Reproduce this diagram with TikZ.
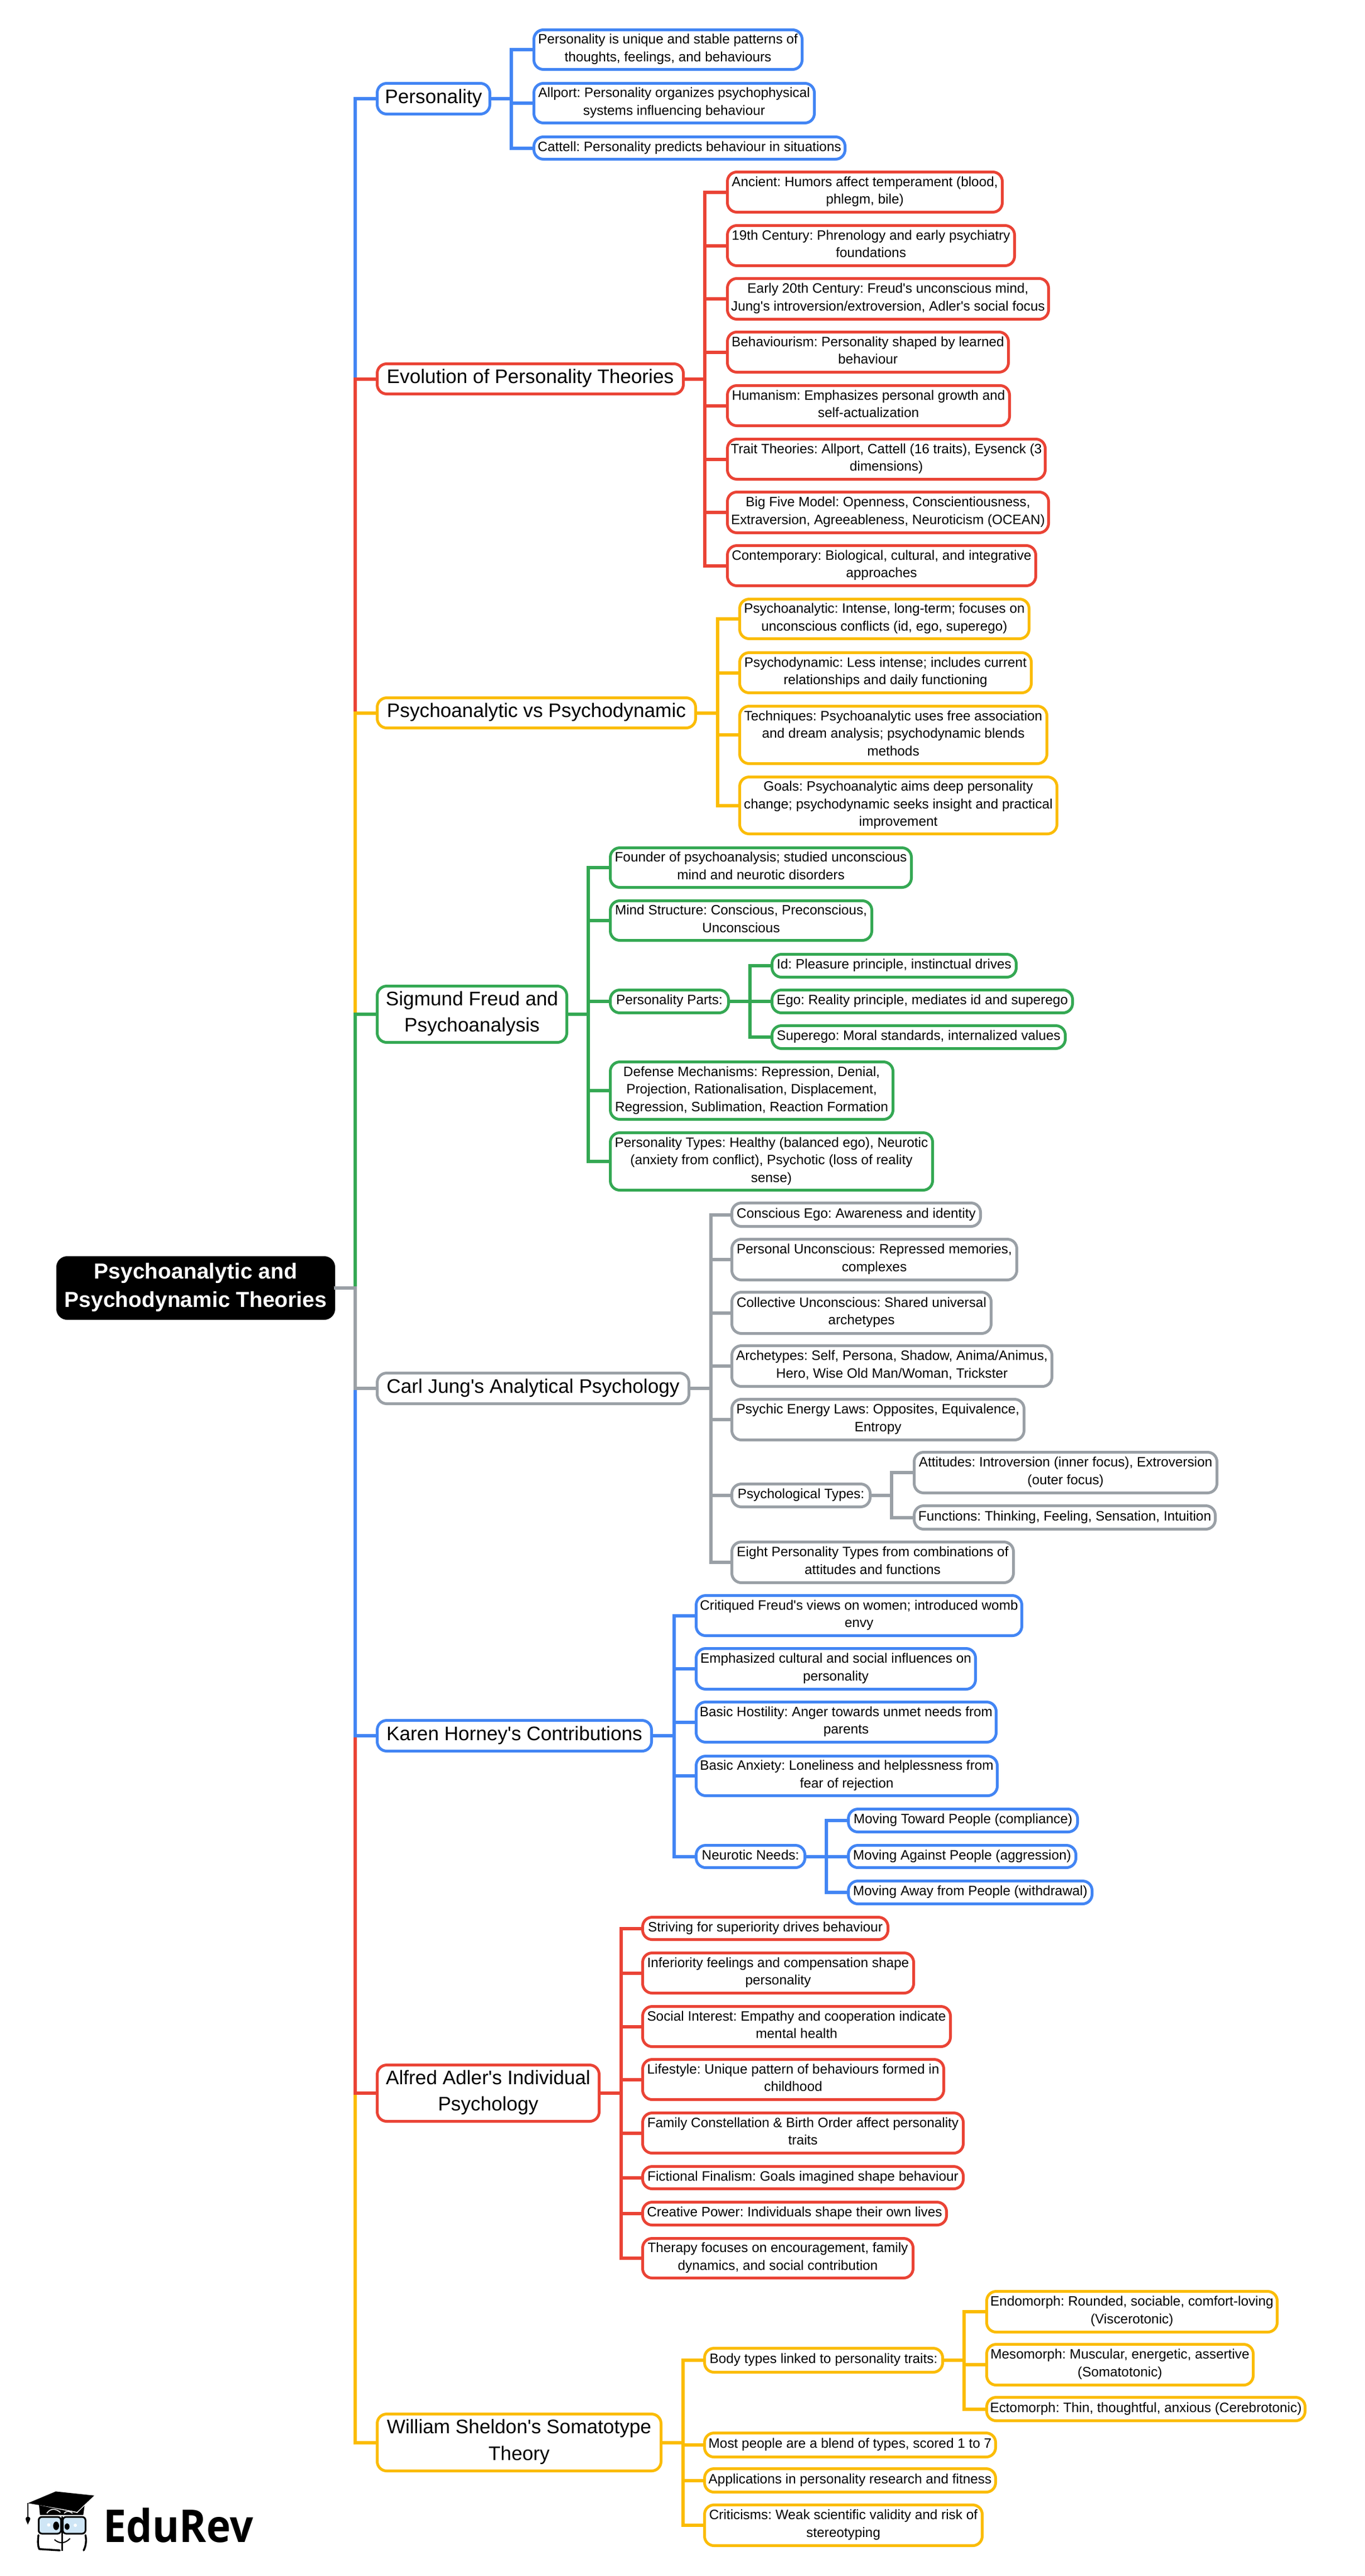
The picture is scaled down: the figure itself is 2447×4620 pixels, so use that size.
\documentclass[tikz,border=0pt]{standalone}
\usepackage{fontspec}
\setmainfont[Ligatures=TeXOff]{Liberation Sans}
\newfontfamily\logofont{Open Sans}
\definecolor{cblue}{HTML}{4285F4}
\definecolor{cred}{HTML}{EA4335}
\definecolor{cyellow}{HTML}{FBBC04}
\definecolor{cgreen}{HTML}{34A853}
\definecolor{cgray}{HTML}{9AA0A6}
\definecolor{lens}{HTML}{CFE6F6}
\frenchspacing
\tikzset{
  basebox/.style={rectangle,rounded corners=17pt,line width=5pt,fill=white,inner sep=0pt,outer sep=0pt,align=center,text=black},
  leafbox/.style={basebox,font=\frenchspacing\fontsize{24.35}{31.5}\selectfont},
  mainbox/.style={basebox,font=\frenchspacing\fontsize{35.2}{47.7}\selectfont},
  rootbox/.style={basebox,draw=black,fill=black,text=white,font=\frenchspacing\fontsize{39}{51}\selectfont\bfseries},
  linkline/.style={line width=6pt,line join=miter}
}
\newcommand{\bx}[7]{\node[#6,minimum width={#4-#2-5},minimum height={#5-#3-5}] (#1) at ({(#2+#4)/2},{(#3+#5)/2}) {\rule[-.27em]{0pt}{.83em}#7\rule[-.27em]{0pt}{.83em}};}
% parent, bus, child
\newcommand{\lnk}[4]{\draw[linkline,draw=#1] (#2.east) -- (#3 |- #2.east) -- (#3 |- #4.west) -- (#4.west);}
\begin{document}
\begin{tikzpicture}[x=1pt,y=-1pt]
\useasboundingbox (0,0) rectangle (2447,4620);
\fill[white] (0,0) rectangle (2447,4620);
% root
\bx{root}{101}{2253}{601}{2367}{rootbox}{Psychoanalytic and\\Psychodynamic Theories}
% main topics
\bx{pers}{674}{147}{881}{207}{mainbox,draw=cblue}{Personality}
\bx{evol}{674}{650}{1228}{709}{mainbox,draw=cred}{Evolution of Personality Theories}
\bx{pvsp}{674}{1249}{1250}{1308}{mainbox,draw=cyellow}{Psychoanalytic vs Psychodynamic}
\bx{freud}{674}{1766}{1019}{1872}{mainbox,draw=cgreen}{Sigmund Freud and\\Psychoanalysis}
\bx{jung}{674}{2460}{1238}{2520}{mainbox,draw=cgray}{Carl Jung's Analytical Psychology}
\bx{karen}{674}{3083}{1171}{3143}{mainbox,draw=cblue}{Karen Horney's Contributions}
\bx{adler}{674}{3701}{1077}{3807}{mainbox,draw=cred}{Alfred Adler's Individual\\Psychology}
\bx{sheldon}{674}{4327}{1188}{4434}{mainbox,draw=cyellow}{William Sheldon's Somatotype\\Theory}
% bus coordinates
\coordinate (trunk) at (637,0);
\coordinate (bpers) at (917,0);
\coordinate (bevol) at (1264,0);
\coordinate (bpvsp) at (1287,0);
\coordinate (bfreud) at (1055,0);
\coordinate (bparts) at (1345,0);
\coordinate (bjung) at (1275,0);
\coordinate (btypes) at (1599,0);
\coordinate (bkaren) at (1209,0);
\coordinate (bneeds) at (1482,0);
\coordinate (badler) at (1114,0);
\coordinate (bsheldon) at (1225,0);
\coordinate (bbody) at (1729,0);
% Personality
\bx{pa}{955}{51}{1441}{127}{leafbox,draw=cblue}{Personality is unique and stable patterns of\\thoughts, feelings, and behaviours}
\bx{pb}{955}{147}{1463}{223}{leafbox,draw=cblue}{Allport: Personality organizes psychophysical\\systems influencing behaviour}
\bx{pc}{955}{243}{1518}{288}{leafbox,draw=cblue}{Cattell: Personality predicts behaviour in situations}
% Evolution
\bx{ea}{1302}{306}{1800}{383}{leafbox,draw=cred}{Ancient: Humors affect temperament (blood,\\phlegm, bile)}
\bx{eb}{1302}{402}{1822}{479}{leafbox,draw=cred}{19th Century: Phrenology and early psychiatry\\foundations}
\bx{ec}{1302}{497}{1883}{575}{leafbox,draw=cred}{Early 20th Century: Freud's unconscious mind,\\Jung's introversion/extroversion, Adler's social focus}
\bx{ed}{1302}{593}{1811}{670}{leafbox,draw=cred}{Behaviourism: Personality shaped by learned\\behaviour}
\bx{ee}{1302}{689}{1813}{766}{leafbox,draw=cred}{Humanism: Emphasizes personal growth and\\self-actualization}
\bx{ef}{1302}{785}{1877}{862}{leafbox,draw=cred}{Trait Theories: Allport, Cattell (16 traits), Eysenck (3\\dimensions)}
\bx{eg}{1302}{880}{1883}{958}{leafbox,draw=cred}{Big Five Model: Openness, Conscientiousness,\\Extraversion, Agreeableness, Neuroticism (OCEAN)}
\bx{eh}{1302}{976}{1860}{1053}{leafbox,draw=cred}{Contemporary: Biological, cultural, and integrative\\approaches}
% Psychoanalytic vs
\bx{va}{1324}{1072}{1848}{1148}{leafbox,draw=cyellow}{Psychoanalytic: Intense, long-term; focuses on\\unconscious conflicts (id, ego, superego)}
\bx{vb}{1324}{1168}{1852}{1245}{leafbox,draw=cyellow}{Psychodynamic: Less intense; includes current\\relationships and daily functioning}
\bx{vc}{1324}{1264}{1880}{1372}{leafbox,draw=cyellow}{Techniques: Psychoanalytic uses free association\\and dream analysis; psychodynamic blends\\methods}
\bx{vd}{1324}{1391}{1898}{1498}{leafbox,draw=cyellow}{Goals: Psychoanalytic aims deep personality\\change; psychodynamic seeks insight and practical\\improvement}
% Freud
\bx{fa}{1092}{1518}{1637}{1594}{leafbox,draw=cgreen}{Founder of psychoanalysis; studied unconscious\\mind and neurotic disorders}
\bx{fb}{1092}{1613}{1566}{1689}{leafbox,draw=cgreen}{Mind Structure: Conscious, Preconscious,\\Unconscious}
\bx{fc}{1092}{1773}{1309}{1819}{leafbox,draw=cgreen}{Personality Parts:}
\bx{fca}{1382}{1709}{1825}{1755}{leafbox,draw=cgreen}{Id: Pleasure principle, instinctual drives}
\bx{fcb}{1382}{1773}{1926}{1819}{leafbox,draw=cgreen}{Ego: Reality principle, mediates id and superego}
\bx{fcc}{1382}{1837}{1913}{1883}{leafbox,draw=cgreen}{Superego: Moral standards, internalized values}
\bx{fd}{1092}{1902}{1604}{2010}{leafbox,draw=cgreen}{Defense Mechanisms: Repression, Denial,\\Projection, Rationalisation, Displacement,\\Regression, Sublimation, Reaction Formation}
\bx{fe}{1092}{2029}{1675}{2137}{leafbox,draw=cgreen}{Personality Types: Healthy (balanced ego), Neurotic\\(anxiety from conflict), Psychotic (loss of reality\\sense)}
% Jung
\bx{ja}{1310}{2155}{1761}{2202}{leafbox,draw=cgray}{Conscious Ego: Awareness and identity}
\bx{jb}{1310}{2220}{1826}{2298}{leafbox,draw=cgray}{Personal Unconscious: Repressed memories,\\complexes}
\bx{jc}{1310}{2315}{1780}{2394}{leafbox,draw=cgray}{Collective Unconscious: Shared universal\\archetypes}
\bx{jd}{1310}{2411}{1889}{2489}{leafbox,draw=cgray}{Archetypes: Self, Persona, Shadow, Anima/Animus,\\Hero, Wise Old Man/Woman, Trickster}
\bx{je}{1310}{2507}{1839}{2585}{leafbox,draw=cgray}{Psychic Energy Laws: Opposites, Equivalence,\\Entropy}
\bx{jf}{1310}{2659}{1563}{2705}{leafbox,draw=cgray}{Psychological Types:}
\bx{jfa}{1637}{2602}{2185}{2680}{leafbox,draw=cgray}{Attitudes: Introversion (inner focus), Extroversion\\(outer focus)}
\bx{jfb}{1637}{2698}{2182}{2745}{leafbox,draw=cgray}{Functions: Thinking, Feeling, Sensation, Intuition}
\bx{jg}{1310}{2763}{1820}{2841}{leafbox,draw=cgray}{Eight Personality Types from combinations of\\attitudes and functions}
% Karen
\bx{ka}{1246}{2859}{1835}{2936}{leafbox,draw=cblue}{Critiqued Freud's views on women; introduced womb\\envy}
\bx{kb}{1246}{2954}{1752}{3032}{leafbox,draw=cblue}{Emphasized cultural and social influences on\\personality}
\bx{kc}{1246}{3050}{1789}{3127}{leafbox,draw=cblue}{Basic Hostility: Anger towards unmet needs from\\parents}
\bx{kd}{1246}{3147}{1791}{3223}{leafbox,draw=cblue}{Basic Anxiety: Loneliness and helplessness from\\fear of rejection}
\bx{ke}{1246}{3307}{1446}{3352}{leafbox,draw=cblue}{Neurotic Needs:}
\bx{kea}{1519}{3242}{1935}{3288}{leafbox,draw=cblue}{Moving Toward People (compliance)}
\bx{keb}{1519}{3307}{1932}{3352}{leafbox,draw=cblue}{Moving Against People (aggression)}
\bx{kec}{1519}{3371}{1961}{3417}{leafbox,draw=cblue}{Moving Away from People (withdrawal)}
% Adler
\bx{aa}{1150}{3436}{1595}{3481}{leafbox,draw=cred}{Striving for superiority drives behaviour}
\bx{ab}{1150}{3500}{1641}{3577}{leafbox,draw=cred}{Inferiority feelings and compensation shape\\personality}
\bx{ac}{1150}{3596}{1707}{3673}{leafbox,draw=cred}{Social Interest: Empathy and cooperation indicate\\mental health}
\bx{ad}{1150}{3691}{1695}{3768}{leafbox,draw=cred}{Lifestyle: Unique pattern of behaviours formed in\\childhood}
\bx{ae}{1150}{3787}{1730}{3864}{leafbox,draw=cred}{Family Constellation \& Birth Order affect personality\\traits}
\bx{af}{1150}{3883}{1730}{3928}{leafbox,draw=cred}{Fictional Finalism: Goals imagined shape behaviour}
\bx{ag}{1150}{3947}{1700}{3993}{leafbox,draw=cred}{Creative Power: Individuals shape their own lives}
\bx{ah}{1150}{4012}{1640}{4088}{leafbox,draw=cred}{Therapy focuses on encouragement, family\\dynamics, and social contribution}
% Sheldon
\bx{sa}{1261}{4209}{1693}{4257}{leafbox,draw=cyellow}{Body types linked to personality traits:}
\bx{saa}{1767}{4107}{2293}{4185}{leafbox,draw=cyellow}{Endomorph: Rounded, sociable, comfort-loving\\(Viscerotonic)}
\bx{sab}{1767}{4202}{2250}{4280}{leafbox,draw=cyellow}{Mesomorph: Muscular, energetic, assertive\\(Somatotonic)}
\bx{sac}{1767}{4297}{2343}{4344}{leafbox,draw=cyellow}{Ectomorph: Thin, thoughtful, anxious (Cerebrotonic)}
\bx{sb}{1261}{4361}{1788}{4409}{leafbox,draw=cyellow}{Most people are a blend of types, scored 1 to 7}
\bx{sc}{1261}{4425}{1788}{4472}{leafbox,draw=cyellow}{Applications in personality research and fitness}
\bx{sd}{1261}{4490}{1764}{4568}{leafbox,draw=cyellow}{Criticisms: Weak scientific validity and risk of\\stereotyping}
% trunk links
\lnk{cblue}{root}{trunk}{pers}
\lnk{cred}{root}{trunk}{evol}
\lnk{cyellow}{root}{trunk}{pvsp}
\lnk{cgreen}{root}{trunk}{freud}
\lnk{cyellow}{root}{trunk}{sheldon}
\lnk{cred}{root}{trunk}{adler}
\lnk{cblue}{root}{trunk}{karen}
\lnk{cgray}{root}{trunk}{jung}
% branch links
\foreach \c in {pa,pb,pc}{\lnk{cblue}{pers}{bpers}{\c}}
\foreach \c in {ea,eb,ec,ed,ee,ef,eg,eh}{\lnk{cred}{evol}{bevol}{\c}}
\foreach \c in {va,vb,vc,vd}{\lnk{cyellow}{pvsp}{bpvsp}{\c}}
\foreach \c in {fa,fb,fc,fd,fe}{\lnk{cgreen}{freud}{bfreud}{\c}}
\foreach \c in {fca,fcb,fcc}{\lnk{cgreen}{fc}{bparts}{\c}}
\foreach \c in {ja,jb,jc,jd,je,jf,jg}{\lnk{cgray}{jung}{bjung}{\c}}
\foreach \c in {jfa,jfb}{\lnk{cgray}{jf}{btypes}{\c}}
\foreach \c in {ka,kb,kc,kd,ke}{\lnk{cblue}{karen}{bkaren}{\c}}
\foreach \c in {kea,keb,kec}{\lnk{cblue}{ke}{bneeds}{\c}}
\foreach \c in {aa,ab,ac,ad,ae,af,ag,ah}{\lnk{cred}{adler}{badler}{\c}}
\foreach \c in {sa,sb,sc,sd}{\lnk{cyellow}{sheldon}{bsheldon}{\c}}
\foreach \c in {saa,sab,sac}{\lnk{cyellow}{sa}{bbody}{\c}}
% logo
\begin{scope}[shift={(0,4400)},x=0.33333pt,y=-0.33333pt]
  \fill[black] (210,278) -- (455,280) -- (448,332) -- (215,332) -- cycle;
  \draw[white,line width=1.6pt] (252,322) .. controls (270,295) and (300,295) .. (325,318);
  \draw[white,line width=1.6pt] (345,322) .. controls (358,308) and (375,310) .. (390,322);
  \draw[white,line width=1.6pt] (205,275) -- (415,318) -- (460,272);
  \fill[black] (150,268) -- (300,205) -- (507,227) -- (415,313) -- cycle;
  \draw[black,line width=2pt] (150,268) -- (150,345);
  \fill[black] (138,350) .. controls (140,338) and (160,338) .. (163,350) .. controls (162,362) and (153,372) .. (150,384) .. controls (146,372) and (138,362) .. (138,350) -- cycle;
  \draw[black,line width=3pt,fill=lens,rounded corners=6pt] (208,342) rectangle (328,432);
  \draw[black,line width=3pt,fill=lens,rounded corners=6pt] (338,342) rectangle (460,432);
  \draw[black,line width=3.4pt,line cap=round] (207,440) .. controls (203,470) and (203,500) .. (212,515) -- (322,522);
  \draw[black,line width=3.4pt,line cap=round] (460,440) .. controls (466,470) and (462,500) .. (450,522);
  \draw[black,line width=3pt] (336,340) -- (336,525);
  \draw[black,line width=2pt] (293,464) .. controls (320,488) and (350,486) .. (377,458);
  \fill[black] (302,390) ellipse [x radius=16,y radius=23];
  \fill[black] (361,394) ellipse [x radius=13,y radius=18];
  \fill[white] (262,385) circle (9);
  \fill[white] (405,387) circle (9);
\end{scope}
\node[anchor=base west,inner sep=0pt,font=\logofont\bfseries\fontsize{81}{81}\selectfont,xscale=0.91] (logo) at (185,4559) {EduRev};
\end{tikzpicture}
\end{document}
